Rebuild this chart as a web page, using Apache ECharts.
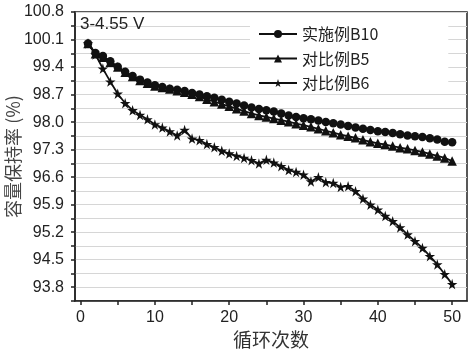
<!DOCTYPE html>
<html>
<head>
<meta charset="utf-8">
<script src="https://cdn.jsdelivr.net/npm/echarts@6/dist/echarts.min.js"></script>
<style>
html,body{margin:0;padding:0;background:#fff;}
#chart{width:474px;height:353px;}
</style>
</head>
<body>
<div id="chart"></div>
<script>
// Cycle numbers
const cycles = [];
for (let i = 1; i <= 50; i++) cycles.push(i);

// 实施例B10 (circles)
const b10 = [100.0, 99.76, 99.68, 99.55, 99.41, 99.28, 99.17, 99.08, 99.01, 98.94,
  98.89, 98.85, 98.82, 98.79, 98.74, 98.70, 98.66, 98.62, 98.57, 98.52,
  98.47, 98.42, 98.37, 98.33, 98.30, 98.27, 98.22, 98.17, 98.13, 98.10,
  98.07, 98.04, 98.00, 97.97, 97.94, 97.90, 97.86, 97.83, 97.80, 97.77,
  97.75, 97.72, 97.69, 97.66, 97.64, 97.62, 97.59, 97.56, 97.50, 97.49];

// 对比例B5 (triangles)
const b5 = [100.0, 99.74, 99.65, 99.52, 99.40, 99.27, 99.16, 99.06, 98.99, 98.92,
  98.88, 98.84, 98.80, 98.76, 98.71, 98.65, 98.58, 98.52, 98.46, 98.40,
  98.34, 98.28, 98.22, 98.17, 98.13, 98.09, 98.05, 98.01, 97.96, 97.92,
  97.88, 97.83, 97.78, 97.73, 97.68, 97.64, 97.60, 97.55, 97.50, 97.46,
  97.43, 97.39, 97.35, 97.32, 97.28, 97.24, 97.19, 97.14, 97.09, 97.01];

// 对比例B6 (stars)
const b6 = [100.0, 99.72, 99.36, 99.03, 98.72, 98.48, 98.30, 98.18, 98.07, 97.94,
  97.86, 97.76, 97.66, 97.80, 97.58, 97.54, 97.44, 97.36, 97.27, 97.20,
  97.14, 97.09, 97.03, 96.95, 97.04, 96.97, 96.88, 96.78, 96.73, 96.66,
  96.49, 96.60, 96.47, 96.45, 96.35, 96.37, 96.24, 96.05, 95.90, 95.77,
  95.61, 95.48, 95.32, 95.14, 94.97, 94.80, 94.59, 94.38, 94.13, 93.88];

const seriesNames = ['实施例B10', '对比例B5', '对比例B6'];
const xTickLabels = [0, 10, 20, 30, 40, 50];
const xTicks = [0, 5, 10, 15, 20, 25, 30, 35, 40, 45, 50];
const yLabelBase = 93.8;
const yLabelStep = 0.7;

const starPath = 'path://M50,0 L61,35 L98,35 L68,57 L79,91 L50,70 L21,91 L32,57 L2,35 L39,35 Z';
const pair = arr => cycles.map((c, i) => [c, arr[i]]);
const fontFamily = '"Liberation Sans", Arial, "Noto Sans CJK SC", sans-serif';
const ink = '#111';

const chart = echarts.init(document.getElementById('chart'), null, {renderer: 'canvas'});
chart.setOption({
  animation: false,
  backgroundColor: '#fff',
  textStyle: {fontFamily: fontFamily},
  title: {
    text: '3-4.55 V',
    left: 80, top: 16,
    padding: 0,
    textStyle: {fontSize: 17, fontWeight: 'normal', color: '#222', fontFamily: fontFamily}
  },
  grid: {
    left: 75, right: 7, top: 12, bottom: 52,
    containLabel: false,
    outerBoundsMode: 'none',
    show: true, borderColor: '#222', borderWidth: 1.5, backgroundColor: 'transparent'
  },
  legend: {
    orient: 'vertical',
    left: 250, top: 20,
    padding: [6, 70, 2, 8],
    backgroundColor: '#fff',
    itemWidth: 38, itemHeight: 10, itemGap: 8.5,
    data: seriesNames,
    textStyle: {fontSize: 16, color: '#222', fontFamily: '"Noto Sans CJK SC", "Liberation Sans", sans-serif'}
  },
  xAxis: {
    type: 'value',
    min: -0.75, max: 52,
    name: '循环次数',
    nameLocation: 'middle',
    nameGap: 29,
    nameMoveOverlap: false,
    nameTextStyle: {fontSize: 19, color: '#333', fontFamily: '"Noto Sans CJK SC", sans-serif'},
    axisLine: {show: true, onZero: false, lineStyle: {color: '#222', width: 1.5}},
    axisTick: {show: true, inside: false, length: 4, customValues: xTicks, lineStyle: {color: '#222', width: 1.5}},
    axisLabel: {customValues: xTickLabels, fontSize: 16, color: '#222', margin: 9, fontFamily: fontFamily},
    splitLine: {show: false}
  },
  yAxis: {
    type: 'value',
    min: 93.45, max: 100.8, interval: 0.35,
    name: '容量保持率 (%)',
    nameLocation: 'middle',
    nameRotate: 90,
    nameGap: 53,
    nameMoveOverlap: false,
    nameTextStyle: {fontSize: 18, color: '#444', fontFamily: '"Noto Sans CJK SC", sans-serif'},
    axisLine: {show: true, onZero: false, lineStyle: {color: '#222', width: 1.5}},
    axisTick: {show: true, inside: false, length: 4, lineStyle: {color: '#222', width: 1.5}},
    axisLabel: {
      fontSize: 16, color: '#222', margin: 11, fontFamily: fontFamily,
      formatter: function (v) {
        const k = Math.round((v - yLabelBase) / (yLabelStep / 2));
        if (k >= 0 && k % 2 === 0) return (yLabelBase + (k / 2) * yLabelStep).toFixed(1);
        return '';
      }
    },
    splitLine: {show: true, lineStyle: {color: '#d6d6d6', width: 1.2}}
  },
  series: [
    {
      name: seriesNames[0], type: 'line', data: pair(b10),
      symbol: 'circle', symbolSize: 8.5,
      lineStyle: {color: ink, width: 1.8}, itemStyle: {color: ink}, z: 3
    },
    {
      name: seriesNames[1], type: 'line', data: pair(b5),
      symbol: 'triangle', symbolSize: 9.5,
      lineStyle: {color: ink, width: 1.8}, itemStyle: {color: ink}, z: 2
    },
    {
      name: seriesNames[2], type: 'line', data: pair(b6),
      symbol: starPath, symbolSize: 10.5,
      lineStyle: {color: ink, width: 1.8}, itemStyle: {color: ink}, z: 2
    }
  ]
});
</script>
</body>
</html>
